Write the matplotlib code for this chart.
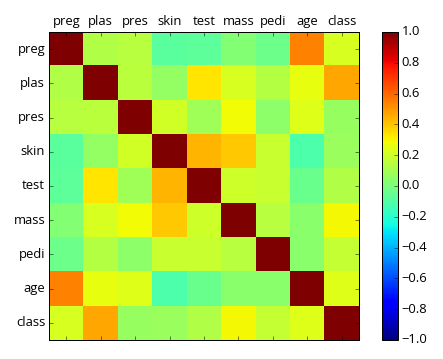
import numpy as np
import matplotlib
matplotlib.use("Agg")
import matplotlib.pyplot as plt

names = ["preg", "plas", "pres", "skin", "test", "mass", "pedi", "age", "class"]

# pima diabetes correlation matrix, row by row
preg = [1.000, 0.129, 0.141, -0.082, -0.074, 0.018, -0.034, 0.544, 0.222]
plas = [0.129, 1.000, 0.153, 0.057, 0.331, 0.221, 0.137, 0.264, 0.467]
pres = [0.141, 0.153, 1.000, 0.207, 0.089, 0.282, 0.041, 0.240, 0.065]
skin = [-0.082, 0.057, 0.207, 1.000, 0.437, 0.393, 0.184, -0.114, 0.075]
test = [-0.074, 0.331, 0.089, 0.437, 1.000, 0.198, 0.185, -0.042, 0.131]
mass = [0.018, 0.221, 0.282, 0.393, 0.198, 1.000, 0.141, 0.036, 0.293]
pedi = [-0.034, 0.137, 0.041, 0.184, 0.185, 0.141, 1.000, 0.034, 0.174]
age = [0.544, 0.264, 0.240, -0.114, -0.042, 0.036, 0.034, 1.000, 0.238]
cls = [0.222, 0.467, 0.065, 0.075, 0.131, 0.293, 0.174, 0.238, 1.000]

cbar_ticks = [-1.0, -0.8, -0.6, -0.4, -0.2, 0.0, 0.2, 0.4, 0.6, 0.8, 1.0]

correlations = np.array([preg, plas, pres, skin, test, mass, pedi, age, cls])

plt.style.use("classic")
plt.rcParams["font.family"] = ["Open Sans", "DejaVu Sans"]
plt.rcParams["font.size"] = 13

fig = plt.figure(figsize=(443 / 72, 359 / 72), dpi=72)
fig.patch.set_facecolor("white")
ax = fig.add_axes([0.111, 0.053, 0.699, 0.858])
cax = fig.add_axes([0.862, 0.053, 0.036, 0.858])

cm = ax.matshow(correlations, vmin=-1, vmax=1, cmap="jet", aspect="auto")
cb = fig.colorbar(cm, cax=cax, ticks=cbar_ticks)
cb.ax.set_yticklabels([f"{t:.1f}".replace("-", "\u2212") for t in cbar_ticks])

ticks = np.arange(0, 9, 1)
ax.set_xticks(ticks)
ax.set_yticks(ticks)
ax.set_xticklabels(names)
ax.set_yticklabels(names)

fig.savefig("out.png", dpi=72, facecolor="white")
